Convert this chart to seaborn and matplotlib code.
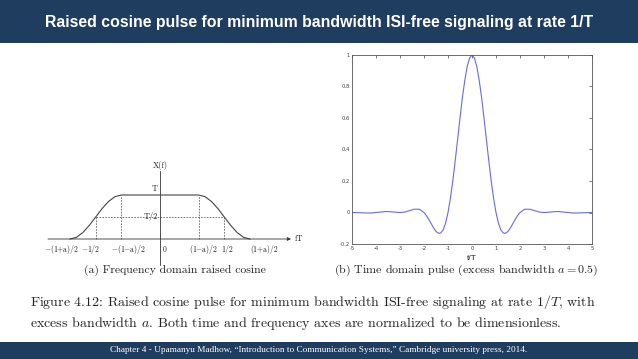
import matplotlib
matplotlib.use("Agg")
import matplotlib.pyplot as plt
from matplotlib.patches import Rectangle
import seaborn as sns

W, H = 638, 359
BAR = "#1f3d5e"
INK = "#333333"
PULSE = "#6a6ae0"

TITLE = "Raised cosine pulse for minimum bandwidth ISI-free signaling at rate 1/T"
FOOTER = ("Chapter 4 - Upamanyu Madhow, \u201cIntroduction to Communication Systems,\u201d "
          "Cambridge university press, 2014.")
CAPTION_1 = "Figure 4.12: Raised cosine pulse for minimum bandwidth ISI-free signaling at rate $1/T$, with"
CAPTION_2 = "excess bandwidth $a$. Both time and frequency axes are normalized to be dimensionless."
SUB_A = "(a) Frequency domain raised cosine"
SUB_B = "(b) Time domain pulse (excess bandwidth $a = 0.5$)"

# frequency domain sketch (fT, X(f)/T), drawn with a = 0.4 proportions as in the picture
FREQ = [-0.7, -0.65, -0.6, -0.55, -0.5, -0.45, -0.4, -0.35, -0.3,
        0.3, 0.35, 0.4, 0.45, 0.5, 0.55, 0.6, 0.65, 0.7]
XF = [0.0, 0.038, 0.146, 0.309, 0.5, 0.691, 0.854, 0.962, 1.0,
      1.0, 0.962, 0.854, 0.691, 0.5, 0.309, 0.146, 0.038, 0.0]
FREQ_TICKS = [-0.7, -0.5, -0.3, 0.0, 0.3, 0.5, 0.7]
FREQ_LABELS = ["$-$(1+a)/2", "$-$1/2", "$-$(1$-$a)/2", "0", "(1$-$a)/2", "1/2", "(1+a)/2"]

# time domain pulse
T_VALUES = [-5.0, -4.8, -4.6, -4.4, -4.2, -4.0, -3.8, -3.6, -3.4, -3.2, -3.0,
            -2.8, -2.6, -2.4, -2.2, -2.0, -1.9, -1.8, -1.7, -1.6, -1.5, -1.4,
            -1.3, -1.2, -1.1, -1.0, -0.9, -0.8, -0.7, -0.6, -0.5, -0.4, -0.3,
            -0.2, -0.1, 0.0, 0.1, 0.2, 0.3, 0.4, 0.5, 0.6, 0.7, 0.8, 0.9, 1.0,
            1.1, 1.2, 1.3, 1.4, 1.5, 1.6, 1.7, 1.8, 1.9, 2.0, 2.2, 2.4, 2.6,
            2.8, 3.0, 3.2, 3.4, 3.6, 3.8, 4.0, 4.2, 4.4, 4.6, 4.8, 5.0]
PULSE_VALUES = [0.0, -0.001, -0.002, -0.003, -0.003, 0.0, 0.003, 0.006, 0.005, 0.002, 0.0,
                0.003, 0.012, 0.021, 0.021, 0.0, -0.020, -0.044, -0.071, -0.098, -0.120, -0.132,
                -0.130, -0.110, -0.067, 0.0, 0.090, 0.201, 0.328, 0.463, 0.600, 0.729, 0.840,
                0.927, 0.981, 1.0, 0.981, 0.927, 0.840, 0.729, 0.600, 0.463, 0.328, 0.201, 0.090, 0.0,
                -0.067, -0.110, -0.130, -0.132, -0.120, -0.098, -0.071, -0.044, -0.020, 0.0, 0.021, 0.021, 0.012,
                0.003, 0.0, 0.002, 0.005, 0.006, 0.003, 0.0, -0.003, -0.003, -0.002, -0.001, 0.0]
T_TICKS = [-5, -4, -3, -2, -1, 0, 1, 2, 3, 4, 5]
Y_TICKS = [-0.2, 0, 0.2, 0.4, 0.6, 0.8, 1]
Y_LABELS = ["-0.2", "0", "0.2", "0.4", "0.6", "0.8", "1"]

sns.set_theme(style="white")
plt.rcParams["mathtext.fontset"] = "cm"
plt.rcParams["axes.unicode_minus"] = False
SERIF = ["cmr10", "Liberation Serif"]
TXT = "#222222"


def box(x0, y0, x1, y1):
    # pixel box (top-left origin) -> figure fraction rect
    return [x0 / W, (H - y1) / H, (x1 - x0) / W, (y1 - y0) / H]


fig = plt.figure(figsize=(W / 100, H / 100), dpi=100, facecolor="white")

# header / footer bars
fig.patches.append(Rectangle((0, 1 - 43 / H), 1, 43 / H, transform=fig.transFigure,
                             facecolor=BAR, edgecolor="none", zorder=0))
fig.patches.append(Rectangle((0, 0), 1, 17 / H, transform=fig.transFigure,
                             facecolor=BAR, edgecolor="none", zorder=0))
fig.text(0.5, 1 - 22 / H, TITLE, ha="center", va="center", color="white",
         fontsize=11.4, fontweight="bold", family="Liberation Sans")
fig.text(0.5, 8.5 / H, FOOTER, ha="center", va="center", color="white",
         fontsize=6.7, family="Liberation Serif")

# ---- panel (a): frequency domain sketch ----
px_unit, py_unit, x0px, y0px = 128.6, 44.0, 160, 239
ax_a = fig.add_axes(box(40, 150, 315, 272))
ax_a.set_xlim((40 - x0px) / px_unit, (315 - x0px) / px_unit)
ax_a.set_ylim((y0px - 272) / py_unit, (y0px - 150) / py_unit)
ax_a.axis("off")

ax_a.annotate("", xy=((291 - x0px) / px_unit, 0), xytext=((48 - x0px) / px_unit, 0),
              arrowprops=dict(arrowstyle="-|>", lw=0.6, color=INK, mutation_scale=5,
                              shrinkA=0, shrinkB=0))
ax_a.plot([0, 0], [(y0px - 265) / py_unit, (y0px - 171) / py_unit], color=INK, lw=0.6)

sns.lineplot(x=FREQ, y=XF, sort=False, ax=ax_a, color="#444444", lw=0.8)

dash = dict(color="#555555", lw=0.55, dashes=(2.2, 1.6))
ax_a.plot([-0.5, 0.5], [0.5, 0.5], **dash)
for f in (-0.3, 0.3):
    ax_a.plot([f, f], [0, 1], **dash)
for f in (-0.5, 0.5):
    ax_a.plot([f, f], [0, 0.5], **dash)

nudge = [-0.062, -0.04, 0.054, 0.039, 0.039, 0.023, 0.109]
for f, lab, dx in zip(FREQ_TICKS, FREQ_LABELS, nudge):
    ax_a.text(f + dx, -0.24, lab, ha="center", va="center", fontsize=5.6, family=SERIF, color=TXT)
ax_a.text(0, (y0px - 166) / py_unit, "X(f)", ha="center", va="center", fontsize=6, family=SERIF, color=TXT)
ax_a.text(-0.04, (y0px - 189) / py_unit, "T", ha="center", va="center", fontsize=6, family=SERIF, color=TXT)
ax_a.text(-0.07, 0.52, "T/2", ha="center", va="center", fontsize=6, family=SERIF, color=TXT)
ax_a.text((299 - x0px) / px_unit, 0, "fT", ha="center", va="center", fontsize=6, family=SERIF, color=TXT)

# ---- panel (b): time domain pulse ----
ax_b = fig.add_axes(box(352, 55, 592, 244))
sns.lineplot(x=T_VALUES, y=PULSE_VALUES, ax=ax_b, color=PULSE, lw=0.8)
ax_b.set_xlim(-5, 5)
ax_b.set_ylim(-0.2, 1)
ax_b.set_xticks(T_TICKS)
ax_b.set_xticklabels([str(t) for t in T_TICKS])
ax_b.set_yticks(Y_TICKS)
ax_b.set_yticklabels(Y_LABELS)
ax_b.tick_params(direction="in", top=True, right=True, length=2.2, width=0.5,
                 labelsize=3.8, pad=1.5, colors="#444444")
for spine in ax_b.spines.values():
    spine.set_color("#555555")
    spine.set_linewidth(0.6)
ax_b.set_xlabel("t/T", fontsize=6, labelpad=2.5, color=TXT, family="Liberation Sans")

# ---- captions ----
fig.text(175 / W, 1 - 270.5 / H, SUB_A, ha="center", va="center", fontsize=8.4, family=SERIF, color=TXT)
fig.text(466 / W, 1 - 270.5 / H, SUB_B, ha="center", va="center", fontsize=8.6, family=SERIF, color=TXT)
fig.text(30 / W, 1 - 302 / H, CAPTION_1, ha="left", va="center", fontsize=10.05, family=SERIF, color=TXT)
fig.text(30 / W, 1 - 323 / H, CAPTION_2, ha="left", va="center", fontsize=10.05, family=SERIF, color=TXT)

fig.savefig("out.png", dpi=100, facecolor="white")
